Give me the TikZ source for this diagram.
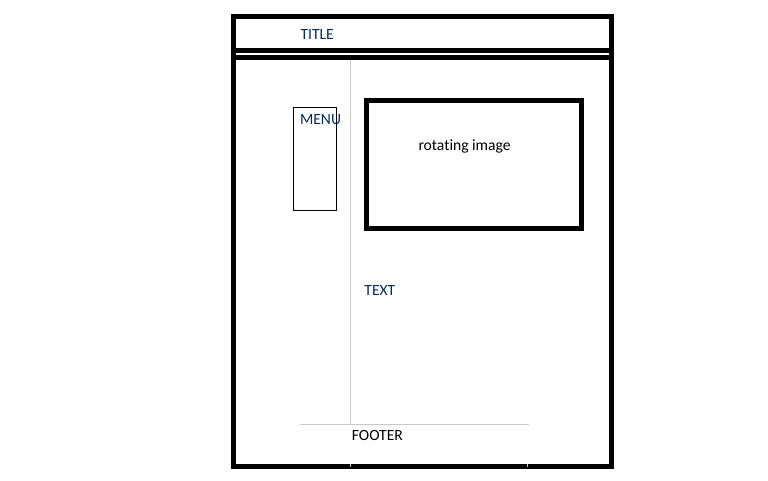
\documentclass[tikz,border=0pt]{standalone}
\usepackage{fontspec}
\setmainfont[Ligatures={NoCommon,NoContextual}]{Carlito}
\definecolor{navy}{RGB}{0,45,95}
\definecolor{lightgray}{RGB}{200,200,200}
\begin{document}
\begin{tikzpicture}[x=1pt,y=-1pt,
  heavy/.style={line width=5pt},
  thin/.style={line width=1pt},
  guide/.style={draw=lightgray,line width=1pt},
  lbl/.style={anchor=base west,inner sep=0pt,font=\fontsize{15.6}{18}\selectfont},
]
\useasboundingbox (0,0) rectangle (768,480);
% outer frame
\draw[heavy] (233.7,16.5) rectangle (611.5,466.3);
% title separator lines
\coordinate (s1l) at (233.7,50.2); \coordinate (s1r) at (611.5,50.2);
\coordinate (s2l) at (233.7,57.5); \coordinate (s2r) at (611.5,57.5);
\draw[heavy] (s1l) -- (s1r);
\draw[heavy] (s2l) -- (s2r);
% guides
\coordinate (vtop) at (350.3,60);
\coordinate (vbot) at (350.3,424);
\coordinate (fl) at (300,424);
\coordinate (fr) at (529,424);
\draw[guide] (vtop) -- (vbot);
\draw[guide] (fl) -- (fr);
\draw[guide] (350.3,464) -- (350.3,466.8);
\draw[guide] (527.3,464) -- (527.3,466.8);
% menu box
\node[draw,thin,inner sep=0pt,minimum width=42.4pt,minimum height=102.4pt] (menubox) at (315,159) {};
% image box
\node[draw,heavy,inner sep=0pt,minimum width=215pt,minimum height=128pt] (imgbox) at (474.2,164.3) {};
% labels
\node[lbl,text=navy] (title) at (300.3,39.3) {TITLE};
\node[lbl,text=navy] (menu) at (299.8,124.3) {MENU};
\node[lbl] (rot) at (418.3,150.5) {rotating image};
\node[lbl,text=navy] (text) at (364.2,295.5) {TEXT};
\node[lbl] (footer) at (351.7,440) {FOOTER};
\end{tikzpicture}
\end{document}
